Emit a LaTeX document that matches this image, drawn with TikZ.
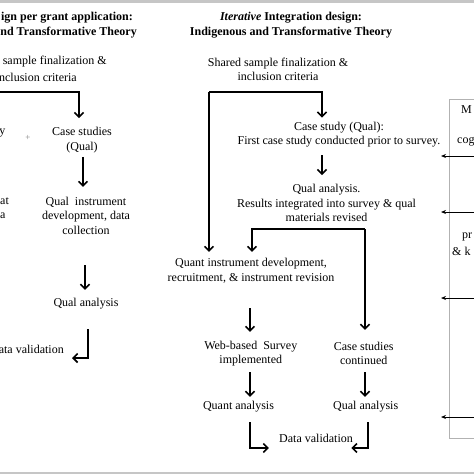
\documentclass[tikz,border=0pt]{standalone}
\usepackage{fontspec}
\setmainfont{Liberation Serif}
\usetikzlibrary{arrows.meta,calc}

\tikzset{
  txt/.style={inner sep=0pt, align=center, font=\fontsize{12}{14.5}\selectfont},
  ttl/.style={txt, font=\fontsize{12}{15}\selectfont\bfseries},
  flow/.style={line width=1.6pt, -{Straight Barb[length=4.5pt,width=9pt]}},
  feedback/.style={line width=0.9pt, -{Stealth[length=5pt,width=4pt]}},
}

\begin{document}
\begin{tikzpicture}[x=1pt,y=-1pt]
  \clip (0,0) rectangle (474,474);
  \fill[gray!45] (0,0) rectangle (474,2.5);
  \fill[gray!45] (0,471.5) rectangle (474,474);

  % left column, cut off by the page edge
  \node[ttl, anchor=east] (ltitleA) at (133,18) {ign per grant application:};
  \node[ttl, anchor=east] (ltitleB) at (137,33) {nd Transformative Theory};
  \node[txt, anchor=east] (lsharedA) at (107,62) {sample finalization \&};
  \node[txt, anchor=east] (lsharedB) at (77,77) {nclusion criteria};
  \node[txt, anchor=east] (lsurvey) at (5.5,133) {y};
  \node[txt, gray, font=\fontsize{9}{9}\selectfont] (plus) at (28,138) {+};
  \node[txt] (lcase) at (82,140) {Case studies\\(Qual)};
  \node[txt, anchor=west] (lquantA) at (0,201) {at};
  \node[txt, anchor=west] (lquantB) at (0,216) {a};
  \node[txt] (lqualdev) at (86,215.5) {Qual\ \ instrument\\development, data\\collection};
  \node[txt] (lqa) at (86,304) {Qual analysis};
  \node[txt, anchor=east] (lvalid) at (64,349) {ata validation};

  \coordinate (lsplit) at (-5,92);
  \draw[flow] (lsplit) -| ($(lcase.north)+(-3,-9)$);
  \draw[flow] ($(lcase.south)+(1,4)$) -- ($(lcase.south |- lqualdev.north)+(1,-9.6)$);
  \draw[flow] ($(lqualdev.south)+(-1,30.6)$) -- ($(lqualdev.south |- lqa.north)+(-1,-8.5)$);
  \draw[flow] ($(lqa.south)+(2,19.5)$) |- ($(lvalid.east)+(8,9)$);

  % iterative design
  \node[ttl] (title) at (291,25.5) {\textit{Iterative} Integration design:\\Indigenous and Transformative Theory};
  \node[txt] (shared) at (278,69.5) {Shared sample finalization \&\\inclusion criteria};
  \node[txt] (case1) at (339,134.5) {Case study (Qual):\\First case study conducted prior to survey.};
  \node[txt] (qa1) at (326.5,203) {Qual analysis.\\Results integrated into survey \& qual\\materials revised};
  \node[txt] (quantdev) at (251,271) {Quant instrument development,\\recruitment, \& instrument revision};
  \node[txt] (web) at (250.8,353.5) {Web-based\ \ Survey\\implemented};
  \node[txt] (cases) at (363.7,353.5) {Case studies\\continued};
  \node[txt] (quanta) at (238.5,407) {Quant analysis};
  \node[txt] (quala) at (365.7,407) {Qual analysis};
  \node[txt] (valid) at (316,438) {Data validation};

  \coordinate (msplit) at (209,92);
  \coordinate (rsplit) at (365,229);
  \draw[flow] (msplit) -| ($(case1.north)+(-17,-4)$);
  \draw[flow] (msplit) -- ($(msplit |- quantdev.north)+(0,-6.5)$);
  \draw[flow] ($(case1.south)+(-17,7.7)$) -- ($(case1.south |- qa1.north)+(-17,-9)$);
  \draw[flow] (rsplit) -| ($(quantdev.north)+(1,-6.5)$);
  \draw[flow] (rsplit) -- ($(rsplit |- cases.north)+(0,-12)$);
  \draw[flow] ($(quantdev.south)+(-1,24.5)$) -- ($(quantdev.south |- web.north)+(-1,-8.7)$);
  \draw[flow] ($(web.south)+(-0.8,5.7)$) -- ($(web.south |- quanta.north)+(-0.8,-4.5)$);
  \draw[flow] ($(cases.south)+(1.3,7)$) -- ($(cases.south |- quala.north)+(1.3,-4.5)$);
  \draw[flow] ($(quanta.south)+(11.5,9.5)$) |- ($(valid.west)+(-10,10)$);
  \draw[flow] ($(quala.south)+(2.3,9.5)$) |- ($(valid.east)+(-1.7,10)$);

  % box on the right, cut off by the page edge
  \draw[gray!60, line width=0.8pt] (449,99) rectangle (490,438);
  \node[txt, anchor=west] (mA) at (461,110) {M};
  \node[txt, anchor=west] (mB) at (457,142) {cog};
  \node[txt, anchor=west] (mC) at (462,237) {pr};
  \node[txt, anchor=west] (mD) at (452,251) {\& k};

  \coordinate (fbA0) at (480,156);
  \coordinate (fbA) at (441,156);
  \coordinate (fbB0) at (480,212);
  \coordinate (fbB) at (441,212);
  \coordinate (fbC0) at (480,298);
  \coordinate (fbC) at (441,298);
  \coordinate (fbD0) at (480,417);
  \coordinate (fbD) at (441,417);
  \draw[feedback] (fbA0) -- (fbA);
  \draw[feedback] (fbB0) -- (fbB);
  \draw[feedback] (fbC0) -- (fbC);
  \draw[feedback] (fbD0) -- (fbD);
\end{tikzpicture}
\end{document}
